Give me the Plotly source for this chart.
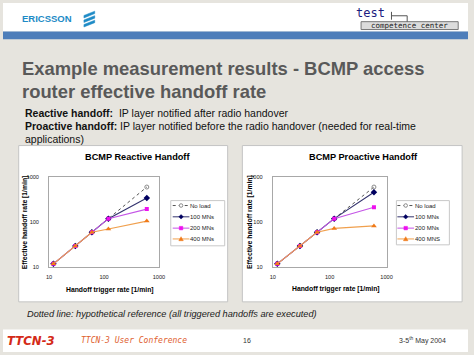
import plotly.graph_objects as go

W, H = 474, 355

# ---------------- data ----------------
trigger_rate = [12, 30, 60, 120, 600]
legend_left = ["No load", "100 MNs", "200 MNs", "400 MNs"]
legend_right = ["No load", "100 MNs", "200 MNs", "400 MNS"]
reactive_no_load = [12, 30, 60, 120, 600]
reactive_100 = [12, 30, 60, 120, 345]
reactive_200 = [12, 30, 60, 120, 195]
reactive_400 = [12, 30, 60, 71, 106]
proactive_no_load = [12, 30, 60, 120, 600]
proactive_100 = [12, 30, 60, 120, 460]
proactive_200 = [12, 30, 60, 120, 215]
proactive_400 = [12, 30, 60, 73, 83]
tick_vals = [10, 100, 1000]
tick_text = ["10", "100", "1000"]

# ---------------- styles ----------------
BG = "#E6E4DE"
FONT = "Arial, Liberation Sans, sans-serif"
MONO = "DejaVu Sans Mono, Liberation Mono, monospace"
styles = [
    dict(line=dict(color="#555555", width=1, dash="dot"),
         marker=dict(symbol="circle-open", color="#8A8A8A", size=4, line=dict(width=1))),
    dict(line=dict(color="#33336E", width=1.1),
         marker=dict(symbol="diamond", color="#000060", size=5)),
    dict(line=dict(color="#C455E6", width=1.1),
         marker=dict(symbol="square", color="#EE10EE", size=4)),
    dict(line=dict(color="#F0A04E", width=1.1),
         marker=dict(symbol="triangle-up", color="#F07A18", size=5)),
]


def px(x):
    return x / W


def py(y):
    return 1 - y / H


fig = go.Figure()

left_series = [reactive_no_load, reactive_100, reactive_200, reactive_400]
right_series = [proactive_no_load, proactive_100, proactive_200, proactive_400]
for i, ys in enumerate(left_series):
    fig.add_trace(go.Scatter(x=trigger_rate, y=ys, mode="lines+markers", name=legend_left[i],
                             xaxis="x", yaxis="y", showlegend=False, **styles[i]))
for i, ys in enumerate(right_series):
    fig.add_trace(go.Scatter(x=trigger_rate, y=ys, mode="lines+markers", name=legend_right[i],
                             xaxis="x2", yaxis="y2", showlegend=False, **styles[i]))


def axis(dom, anchor, tlen):
    return dict(type="log", range=[1, 3], domain=dom, anchor=anchor,
                tickvals=tick_vals, ticktext=tick_text, showgrid=False, zeroline=False,
                showline=True, mirror=True, linecolor="#A8A8A8", linewidth=1,
                ticks="outside", ticklen=tlen, tickcolor="rgba(0,0,0,0)",
                tickfont=dict(family=FONT, size=5.6, color="#222222"))


xa = axis([px(47), px(159)], "y", 4)
ya = axis([py(269), py(177)], "x", 8)
xa2 = axis([px(275), px(391)], "y2", 4)
ya2 = axis([py(269), py(177)], "x2", 8)

shapes = []
annotations = []


def rect(x0, y0, x1, y1, fill, line="rgba(0,0,0,0)", lw=0):
    shapes.append(dict(type="rect", xref="paper", yref="paper", x0=px(x0), x1=px(x1),
                       y0=py(y1), y1=py(y0), fillcolor=fill, line=dict(color=line, width=lw),
                       layer="below"))


def path(pts, fill=None, line="#000", lw=1, closed=True, layer="above"):
    d = "M " + " L ".join(f"{px(a):.5f},{py(b):.5f}" for a, b in pts)
    if closed:
        d += " Z"
    s = dict(type="path", xref="paper", yref="paper", path=d,
             line=dict(color=line, width=lw), layer=layer)
    if fill:
        s["fillcolor"] = fill
    shapes.append(s)


def ann(text, x, y, size, color="#000", xa_="center", ya_="middle", family=FONT,
        weight="normal", style="normal", angle=0):
    if xa_ == "left":
        x -= 2
    elif xa_ == "right":
        x += 2
    annotations.append(dict(text=text, x=px(x), y=py(y), xref="paper", yref="paper",
                            xanchor=xa_, yanchor=ya_, showarrow=False, textangle=angle,
                            borderpad=0,
                            font=dict(family=family, size=size, color=color,
                                      weight=weight, style=style)))


# slide frame
rect(0, 0, 474, 29, "#FFFFFF")
rect(0, 29, 474, 37, "#4E7EBA")
rect(0, 332, 474, 355, "#FFFFFF")
# chart panels
rect(16, 145, 229, 304, "#FFFFFF", "#C4C4C4", 1)
rect(244, 145, 468, 304, "#FFFFFF", "#C4C4C4", 1)

# header
ann("<b>ERICSSON</b>", 20, 16, 9.5, "#1E8BC6", xa_="left")
for i in range(3):
    y0 = 9.5 + 4.6 * i
    path([(82.5, y0 + 3.2), (93.5, y0 - 1.2), (93.5, y0 + 1.3), (82.5, y0 + 5.7)],
         fill="#1E8BC6", line="#1E8BC6", lw=0.5)
ann("test", 361, 10, 12, "#1C1C80", xa_="left", family=MONO)
path([(396, 9), (396, 17)], line="#555555", lw=1, closed=False)
path([(396, 13), (412, 13), (412, 19)], line="#555555", lw=1, closed=False)
rect(365, 19, 464, 27, "#DCDCDC", "#777777", 1)
ann("competence center", 414.5, 23, 7.5, "#222222", family=MONO)

# titles and body
ann("Example measurement results - BCMP access", 20, 67, 18.4, "#595959", xa_="left", weight="bold")
ann("router effective handoff rate", 20, 90, 18.4, "#595959", xa_="left", weight="bold")
ann("<b>Reactive handoff:</b>  IP layer notified after radio handover", 23, 112, 10.5, "#111111", xa_="left")
ann("<b>Proactive handoff:</b> IP layer notified before the radio handover (needed for real-time",
    23, 125, 10.5, "#111111", xa_="left")
ann("applications)", 23, 138.5, 10.5, "#111111", xa_="left")

# chart texts
ann("BCMP Reactive Handoff", 137, 157, 9.2, "#000000", weight="bold")
ann("BCMP Proactive Handoff", 367, 157, 9.2, "#000000", weight="bold")
ann("Handoff trigger rate [1/min]", 109, 292, 6.8, "#000000", weight="bold")
ann("Handoff trigger rate [1/min]", 339, 291, 6.8, "#000000", weight="bold")
ann("Effective handoff rate [1/min]", 22.5, 223, 6.8, "#000000", weight="bold", angle=-90)
ann("Effective handoff rate [1/min]", 252.5, 223, 6.8, "#000000", weight="bold", angle=-90)


# legends (drawn manually to match compact spacing)
def legend(bx0, by0, bx1, by1, lx0, lx1, names):
    rect(bx0, by0, bx1, by1, "#FFFFFF", "#C8C8C8", 1)
    shapes[-1]["layer"] = "above"
    ys = [206, 217.5, 229, 240]
    mx = (lx0 + lx1) / 2
    for i, (yy, nm) in enumerate(zip(ys, names)):
        st = styles[i]
        shapes.append(dict(type="line", xref="paper", yref="paper", x0=px(lx0), x1=px(lx1),
                           y0=py(yy), y1=py(yy),
                           line=dict(color=st["line"]["color"], width=1,
                                     dash=st["line"].get("dash", "solid"))))
        c = st["marker"]["color"]
        if i == 0:
            shapes.append(dict(type="circle", xref="paper", yref="paper", x0=px(mx - 1.8), x1=px(mx + 1.8),
                               y0=py(yy + 1.8), y1=py(yy - 1.8), fillcolor="#FFFFFF",
                               line=dict(color=c, width=1)))
        elif i == 1:
            path([(mx, yy - 2.3), (mx + 2.3, yy), (mx, yy + 2.3), (mx - 2.3, yy)], fill=c, line=c, lw=0.5)
        elif i == 2:
            path([(mx - 1.8, yy - 1.8), (mx + 1.8, yy - 1.8), (mx + 1.8, yy + 1.8), (mx - 1.8, yy + 1.8)],
                 fill=c, line=c, lw=0.5)
        else:
            path([(mx, yy - 2.3), (mx + 2.3, yy + 1.8), (mx - 2.3, yy + 1.8)], fill=c, line=c, lw=0.5)
        ann(nm, lx1 + 2, yy, 6, "#222222", xa_="left")


legend(171, 201, 226, 247, 173, 190, legend_left)
legend(401, 201, 455, 246, 402, 419, legend_right)

# footnote and footer
ann("Dotted line: hypothetical reference (all triggered handoffs are executed)", 25, 316, 9.2,
    "#1A1A1A", xa_="left", style="italic")
ann("TTCN-3", 5, 343, 13, "#D42A18", xa_="left", weight="bold", style="italic",
    family="Liberation Sans Narrow, DejaVu Sans Condensed, Arial")
ann("TTCN-3 User Conference", 80, 343, 8, "#E0602E", xa_="left", style="italic", family=MONO)
ann("16", 246, 343, 7, "#333333", xa_="left")
ann("3-5<sup>th</sup> May 2004", 451, 343, 7, "#333333", xa_="right")

fig.update_layout(
    width=W, height=H, margin=dict(l=0, r=0, t=0, b=0),
    paper_bgcolor=BG, plot_bgcolor="rgba(0,0,0,0)",
    xaxis=xa, yaxis=ya, xaxis2=xa2, yaxis2=ya2,
    shapes=shapes, annotations=annotations, showlegend=False,
)

fig.write_html("out.html")
